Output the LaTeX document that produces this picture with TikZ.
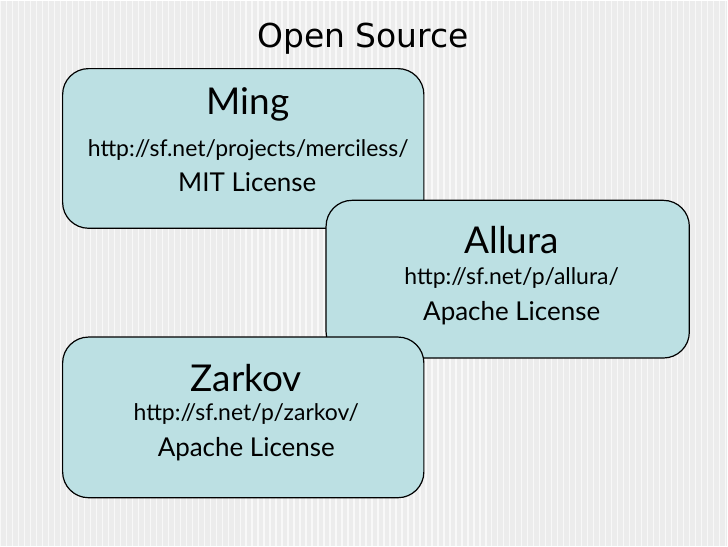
\documentclass[tikz,border=0pt]{standalone}
\usepackage{fontspec}
\setmainfont{Lato}
\newfontfamily\titlefont{DejaVu Sans}
\definecolor{boxfill}{HTML}{BCE0E3}
\definecolor{bg}{HTML}{ECECEC}
\definecolor{gridc}{HTML}{F8F8F8}
\begin{document}
\begin{tikzpicture}[x=1pt,y=-1pt,
  card/.style={draw=black,line width=1.2pt,fill=boxfill,rounded corners=26pt},
  big/.style={font=\fontsize{37}{40}\selectfont},
  url/.style={font=\fontsize{23}{25}\selectfont},
  lic/.style={font=\fontsize{26}{28}\selectfont}]
\fill[bg] (0,0) rectangle (728,546);
\draw[gridc,line width=1.5pt] (0,0) grid[step=6] (728,546);
\useasboundingbox (0,0) rectangle (728,546);
\node (title) at (363,38) {\titlefont\fontsize{33}{36}\selectfont Open Source};
\draw[card] (62,68) rectangle (424,228);
\node[big] (ming) at (248,104) {Ming};
\node[url] (mingurl) at (248,150) {http://sf.net/projects/merciless/};
\node[lic] (minglic) at (247,182) {MIT License};
\draw[card] (326,200) rectangle (690,358);
\node[big] (allura) at (512,240) {Allura};
\node[url] (allurl) at (512,278) {http://sf.net/p/allura/};
\node[lic] (allic) at (512,313) {Apache License};
\draw[card] (62,337) rectangle (424,498);
\node[big] (zarkov) at (246,378) {Zarkov};
\node[url] (zurl) at (246,414) {http://sf.net/p/zarkov/};
\node[lic] (zlic) at (246,449) {Apache License};
\end{tikzpicture}
\end{document}
